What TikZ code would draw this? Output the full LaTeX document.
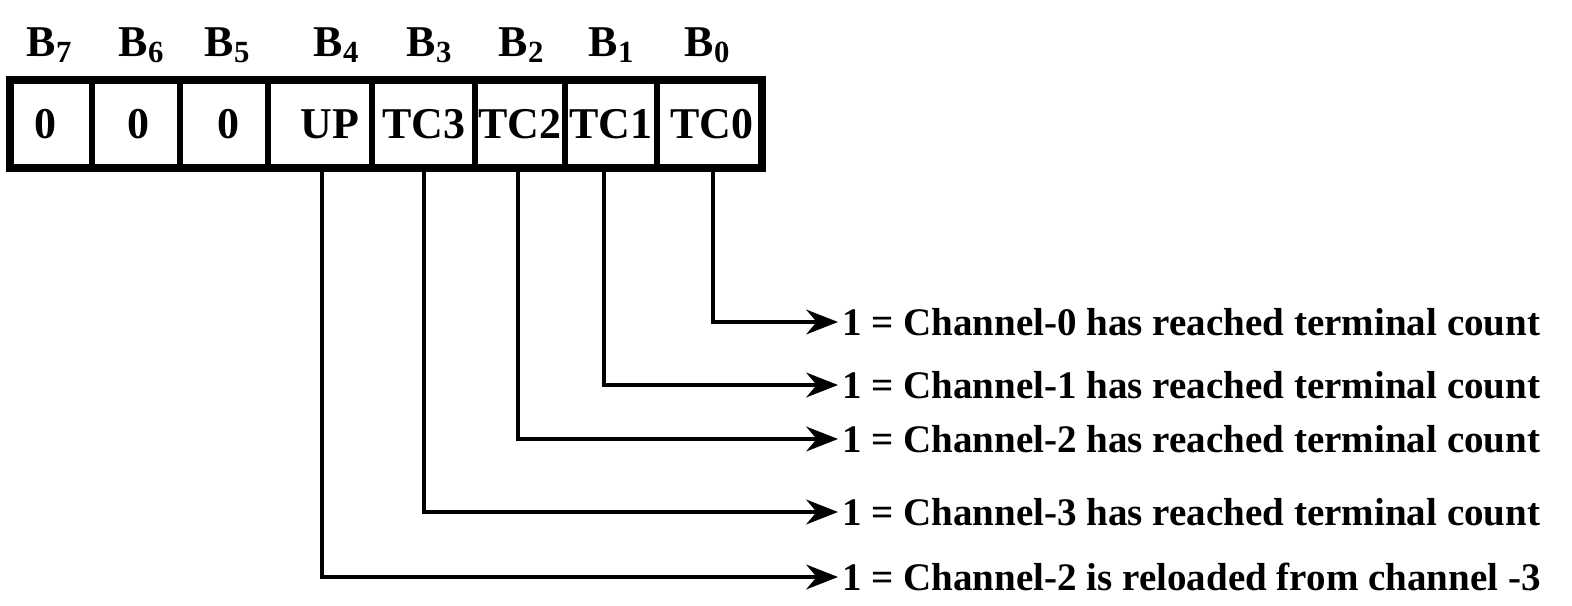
\documentclass[tikz,border=0pt]{standalone}
\usepackage{fontspec}
\setmainfont{Liberation Serif}
\usetikzlibrary{arrows.meta}
\begin{document}
\begin{tikzpicture}[x=0.01cm,y=-0.01cm,
  lbl/.style={font=\bfseries\fontsize{11.1}{13}\selectfont,anchor=west,inner sep=1pt},
  cell/.style={font=\bfseries\fontsize{12.5}{15}\selectfont},
  bl/.style={font=\bfseries\fontsize{12.5}{15}\selectfont},
  conn/.style={line width=1.2pt,-{Stealth[length=9pt,width=7pt]}}]
\useasboundingbox (0,0) rectangle (1572,606);
\draw[line width=2.2pt] (10,80) rectangle (762,168);
\foreach \x in {92,180,268,372,475,565,657}{\draw[line width=1.5pt] (\x,80) -- (\x,168);}
\node[cell] (c7) at (45,124) {0};
\node[cell] (c6) at (138,124) {0};
\node[cell] (c5) at (228,124) {0};
\node[cell] (c4) at (330,124) {UP};
\node[cell] (c3) at (424,124) {TC3};
\node[cell] (c2) at (520,124) {TC2};
\node[cell] (c1) at (611,124) {TC1};
\node[cell] (c0) at (712,124) {TC0};
\node[bl] (b7) at (50,45) {B$_{\mathbf 7}$};
\node[bl] (b6) at (142,45) {B$_{\mathbf 6}$};
\node[bl] (b5) at (228,45) {B$_{\mathbf 5}$};
\node[bl] (b4) at (337,45) {B$_{\mathbf 4}$};
\node[bl] (b3) at (430,45) {B$_{\mathbf 3}$};
\node[bl] (b2) at (522,45) {B$_{\mathbf 2}$};
\node[bl] (b1) at (612,45) {B$_{\mathbf 1}$};
\node[bl] (b0) at (708,45) {B$_{\mathbf 0}$};
\node[lbl] (l0) at (838,322) {1 = Channel-0 has reached terminal count};
\node[lbl] (l1) at (838,385) {1 = Channel-1 has reached terminal count};
\node[lbl] (l2) at (838,439) {1 = Channel-2 has reached terminal count};
\node[lbl] (l3) at (838,512) {1 = Channel-3 has reached terminal count};
\node[lbl] (l4) at (838,577) {1 = Channel-2 is reloaded from channel -3};
\coordinate (s0) at (713,168); \coordinate (s1) at (604,168); \coordinate (s2) at (518,168);
\coordinate (s3) at (424,168); \coordinate (s4) at (322,168);
\draw[conn] (s0) |- (l0.west);
\draw[conn] (s1) |- (l1.west);
\draw[conn] (s2) |- (l2.west);
\draw[conn] (s3) |- (l3.west);
\draw[conn] (s4) |- (l4.west);
\end{tikzpicture}
\end{document}
